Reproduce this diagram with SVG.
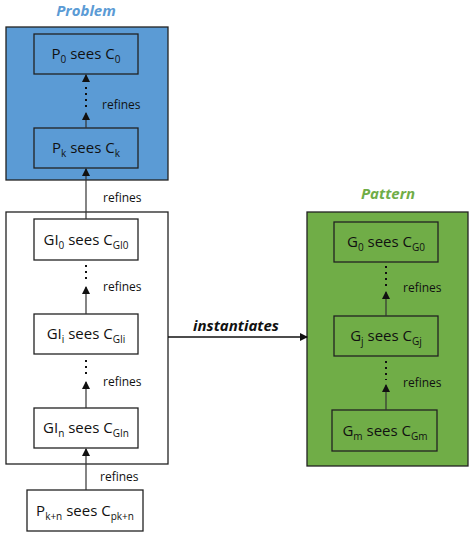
<svg xmlns="http://www.w3.org/2000/svg" width="474" height="533" viewBox="0 0 474 533">
<defs>
<marker id="ah" markerWidth="8" markerHeight="8" refX="7" refY="4" orient="auto" markerUnits="userSpaceOnUse">
<path d="M0,0 L8,4 L0,8 z" fill="#111"/>
</marker>
<style>
.grp{stroke:#222;stroke-width:1.3}
.box{fill:none;stroke:#222;stroke-width:1.3}
.t{font-family:"Open Sans","Noto Sans",sans-serif;font-size:15px;fill:#111;text-anchor:middle}
.s{font-size:10px}
.lbl{font-family:"Open Sans","Noto Sans",sans-serif;font-size:12px;fill:#111}
.title{font-family:"Open Sans","Noto Sans",sans-serif;font-size:15px;font-weight:bold;font-style:italic;text-anchor:middle}
.ln{stroke:#333;stroke-width:1.2;fill:none}
.dot{stroke:#111;stroke-width:2;stroke-dasharray:2,4;fill:none}
</style>
</defs>
<rect x="0" y="0" width="474" height="533" fill="#fff"/>

<g id="problem-group">
<text class="title" x="86" y="16" fill="#5B9BD5">Problem</text>
<rect class="grp" x="6" y="27" width="162" height="153" fill="#5B9BD5"/>
</g>
<g id="gi-group">
<rect class="grp" x="6" y="212" width="162" height="252" fill="#fff"/>
</g>
<g id="pattern-group">
<text class="title" x="388" y="199" fill="#70AD47">Pattern</text>
<rect class="grp" x="307" y="212" width="161" height="254" fill="#70AD47"/>
</g>

<g id="P0"><rect class="box" x="34" y="34" width="104" height="40"/>
<text class="t" x="86" y="59">P<tspan class="s" dy="4">0</tspan><tspan dy="-4"> sees C</tspan><tspan class="s" dy="4">0</tspan></text></g>
<g id="Pk"><rect class="box" x="34" y="128" width="104" height="40"/>
<text class="t" x="86" y="153">P<tspan class="s" dy="4">k</tspan><tspan dy="-4"> sees C</tspan><tspan class="s" dy="4">k</tspan></text></g>
<g id="GI0"><rect class="box" x="34" y="219" width="104" height="41"/>
<text class="t" x="86" y="245">GI<tspan class="s" dy="4">0</tspan><tspan dy="-4"> sees C</tspan><tspan class="s" dy="4">GI0</tspan></text></g>
<g id="GIi"><rect class="box" x="34" y="314" width="104" height="40"/>
<text class="t" x="86" y="339">GI<tspan class="s" dy="4">i</tspan><tspan dy="-4"> sees C</tspan><tspan class="s" dy="4">GIi</tspan></text></g>
<g id="GIn"><rect class="box" x="34" y="408" width="104" height="40"/>
<text class="t" x="86" y="433">GI<tspan class="s" dy="4">n</tspan><tspan dy="-4"> sees C</tspan><tspan class="s" dy="4">GIn</tspan></text></g>
<g id="Pkn"><rect class="box" x="27" y="490" width="116" height="41" fill="#fff"/>
<text class="t" x="85" y="516">P<tspan class="s" dy="4">k+n</tspan><tspan dy="-4"> sees C</tspan><tspan class="s" dy="4">pk+n</tspan></text></g>
<g id="G0"><rect class="box" x="334" y="222" width="104" height="40"/>
<text class="t" x="386" y="247">G<tspan class="s" dy="4">0</tspan><tspan dy="-4"> sees C</tspan><tspan class="s" dy="4">G0</tspan></text></g>
<g id="Gj"><rect class="box" x="334" y="316" width="104" height="40"/>
<text class="t" x="386" y="341">G<tspan class="s" dy="4">j</tspan><tspan dy="-4"> sees C</tspan><tspan class="s" dy="4">Gj</tspan></text></g>
<g id="Gm"><rect class="box" x="332" y="410" width="105" height="41"/>
<text class="t" x="385" y="436">G<tspan class="s" dy="4">m</tspan><tspan dy="-4"> sees C</tspan><tspan class="s" dy="4">Gm</tspan></text></g>

<g id="connectors">
<line class="ln" x1="86" y1="128" x2="86" y2="113" marker-end="url(#ah)"/>
<line class="dot" x1="86" y1="107" x2="86" y2="83"/>
<line class="ln" x1="86" y1="82" x2="86" y2="75" marker-end="url(#ah)"/>
<text class="lbl" x="102" y="109">refines</text>

<line class="ln" x1="86" y1="219" x2="86" y2="169" marker-end="url(#ah)"/>
<text class="lbl" x="103" y="202">refines</text>

<line class="ln" x1="86" y1="314" x2="86" y2="287" marker-end="url(#ah)"/>
<line class="dot" x1="86" y1="265" x2="86" y2="283"/>
<text class="lbl" x="103" y="291">refines</text>

<line class="ln" x1="86" y1="408" x2="86" y2="382" marker-end="url(#ah)"/>
<line class="dot" x1="86" y1="360" x2="86" y2="377"/>
<text class="lbl" x="103" y="386">refines</text>

<line class="ln" x1="86" y1="490" x2="86" y2="449" marker-end="url(#ah)"/>
<text class="lbl" x="100" y="481">refines</text>

<line class="ln" x1="386" y1="316" x2="386" y2="292" marker-end="url(#ah)"/>
<line class="dot" x1="386" y1="266" x2="386" y2="287"/>
<text class="lbl" x="403" y="292">refines</text>

<line class="ln" x1="386" y1="410" x2="386" y2="385" marker-end="url(#ah)"/>
<line class="dot" x1="386" y1="361" x2="386" y2="380"/>
<text class="lbl" x="403" y="387">refines</text>

<line class="ln" x1="168" y1="337" x2="307" y2="337" marker-end="url(#ah)" style="stroke:#111;stroke-width:1.5"/>
<text x="236" y="331" font-family="Open Sans, Noto Sans, sans-serif" font-size="15" font-weight="bold" font-style="italic" text-anchor="middle" fill="#111">instantiates</text>
</g>
</svg>
